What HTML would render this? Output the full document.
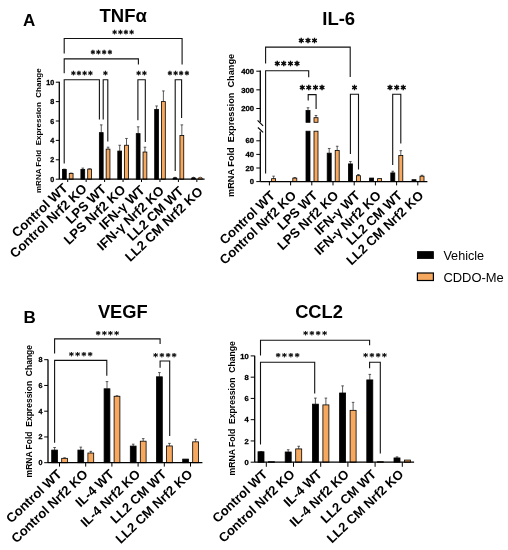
<!DOCTYPE html>
<html><head><meta charset="utf-8"><style>
html,body{margin:0;padding:0;background:#fff;}
svg{display:block;}
text{font-family:"Liberation Sans",Arial,sans-serif;fill:#000;}
</style></head><body>
<svg width="508" height="550" viewBox="0 0 508 550">
<rect width="508" height="550" fill="#fff"/>
<line x1="64.35" y1="169.50" x2="64.35" y2="169.11" stroke="#333" stroke-width="0.8"/>
<line x1="63.05" y1="169.11" x2="65.65" y2="169.11" stroke="#333" stroke-width="0.8"/>
<rect x="62.45" y="169.50" width="3.80" height="9.70" fill="#000" stroke="#000" stroke-width="0.8"/>
<line x1="71.15" y1="173.38" x2="71.15" y2="173.09" stroke="#333" stroke-width="0.8"/>
<line x1="69.85" y1="173.09" x2="72.45" y2="173.09" stroke="#333" stroke-width="0.8"/>
<rect x="69.25" y="173.38" width="3.80" height="5.82" fill="#F6A85E" stroke="#000" stroke-width="0.8"/>
<line x1="67.70" y1="179.20" x2="67.70" y2="182.00" stroke="#000" stroke-width="1.0"/>
<text x="68.50" y="189.20" font-size="13.2" font-weight="bold" text-anchor="end" transform="rotate(-43.5 68.50 189.20)">Control WT</text>
<line x1="82.80" y1="169.50" x2="82.80" y2="168.14" stroke="#333" stroke-width="0.8"/>
<line x1="81.50" y1="168.14" x2="84.10" y2="168.14" stroke="#333" stroke-width="0.8"/>
<rect x="80.90" y="169.50" width="3.80" height="9.70" fill="#000" stroke="#000" stroke-width="0.8"/>
<line x1="89.60" y1="169.11" x2="89.60" y2="168.82" stroke="#333" stroke-width="0.8"/>
<line x1="88.30" y1="168.82" x2="90.90" y2="168.82" stroke="#333" stroke-width="0.8"/>
<rect x="87.70" y="169.11" width="3.80" height="10.09" fill="#F6A85E" stroke="#000" stroke-width="0.8"/>
<line x1="86.15" y1="179.20" x2="86.15" y2="182.00" stroke="#000" stroke-width="1.0"/>
<text x="87.80" y="189.70" font-size="13.2" font-weight="bold" text-anchor="end" transform="rotate(-43.5 87.80 189.70)">Control Nrf2 KO</text>
<line x1="101.25" y1="132.64" x2="101.25" y2="124.88" stroke="#333" stroke-width="0.8"/>
<line x1="99.95" y1="124.88" x2="102.55" y2="124.88" stroke="#333" stroke-width="0.8"/>
<rect x="99.35" y="132.64" width="3.80" height="46.56" fill="#000" stroke="#000" stroke-width="0.8"/>
<line x1="108.05" y1="149.13" x2="108.05" y2="147.19" stroke="#333" stroke-width="0.8"/>
<line x1="106.75" y1="147.19" x2="109.35" y2="147.19" stroke="#333" stroke-width="0.8"/>
<rect x="106.15" y="149.13" width="3.80" height="30.07" fill="#F6A85E" stroke="#000" stroke-width="0.8"/>
<line x1="104.60" y1="179.20" x2="104.60" y2="182.00" stroke="#000" stroke-width="1.0"/>
<text x="107.10" y="190.20" font-size="13.2" font-weight="bold" text-anchor="end" transform="rotate(-43.5 107.10 190.20)">LPS WT</text>
<line x1="119.70" y1="151.07" x2="119.70" y2="145.25" stroke="#333" stroke-width="0.8"/>
<line x1="118.40" y1="145.25" x2="121.00" y2="145.25" stroke="#333" stroke-width="0.8"/>
<rect x="117.80" y="151.07" width="3.80" height="28.13" fill="#000" stroke="#000" stroke-width="0.8"/>
<line x1="126.50" y1="145.25" x2="126.50" y2="138.46" stroke="#333" stroke-width="0.8"/>
<line x1="125.20" y1="138.46" x2="127.80" y2="138.46" stroke="#333" stroke-width="0.8"/>
<rect x="124.60" y="145.25" width="3.80" height="33.95" fill="#F6A85E" stroke="#000" stroke-width="0.8"/>
<line x1="123.05" y1="179.20" x2="123.05" y2="182.00" stroke="#000" stroke-width="1.0"/>
<text x="126.40" y="190.70" font-size="13.2" font-weight="bold" text-anchor="end" transform="rotate(-43.5 126.40 190.70)">LPS Nrf2 KO</text>
<line x1="138.15" y1="133.61" x2="138.15" y2="126.82" stroke="#333" stroke-width="0.8"/>
<line x1="136.85" y1="126.82" x2="139.45" y2="126.82" stroke="#333" stroke-width="0.8"/>
<rect x="136.25" y="133.61" width="3.80" height="45.59" fill="#000" stroke="#000" stroke-width="0.8"/>
<line x1="144.95" y1="152.04" x2="144.95" y2="147.19" stroke="#333" stroke-width="0.8"/>
<line x1="143.65" y1="147.19" x2="146.25" y2="147.19" stroke="#333" stroke-width="0.8"/>
<rect x="143.05" y="152.04" width="3.80" height="27.16" fill="#F6A85E" stroke="#000" stroke-width="0.8"/>
<line x1="141.50" y1="179.20" x2="141.50" y2="182.00" stroke="#000" stroke-width="1.0"/>
<text x="145.70" y="191.20" font-size="13.2" font-weight="bold" text-anchor="end" transform="rotate(-43.5 145.70 191.20)">IFN-γ WT</text>
<line x1="156.60" y1="109.36" x2="156.60" y2="105.96" stroke="#333" stroke-width="0.8"/>
<line x1="155.30" y1="105.96" x2="157.90" y2="105.96" stroke="#333" stroke-width="0.8"/>
<rect x="154.70" y="109.36" width="3.80" height="69.84" fill="#000" stroke="#000" stroke-width="0.8"/>
<line x1="163.40" y1="101.60" x2="163.40" y2="90.93" stroke="#333" stroke-width="0.8"/>
<line x1="162.10" y1="90.93" x2="164.70" y2="90.93" stroke="#333" stroke-width="0.8"/>
<rect x="161.50" y="101.60" width="3.80" height="77.60" fill="#F6A85E" stroke="#000" stroke-width="0.8"/>
<line x1="159.95" y1="179.20" x2="159.95" y2="182.00" stroke="#000" stroke-width="1.0"/>
<text x="165.00" y="191.70" font-size="13.2" font-weight="bold" text-anchor="end" transform="rotate(-43.5 165.00 191.70)">IFN-γ Nrf2 KO</text>
<path d="M172.75,179.20 Q172.75,177.20 175.05,177.20 Q177.35,177.20 177.35,179.20 Z" fill="#000" stroke="#000" stroke-width="0.6"/>
<line x1="181.85" y1="135.55" x2="181.85" y2="124.88" stroke="#333" stroke-width="0.8"/>
<line x1="180.55" y1="124.88" x2="183.15" y2="124.88" stroke="#333" stroke-width="0.8"/>
<rect x="179.95" y="135.55" width="3.80" height="43.65" fill="#F6A85E" stroke="#000" stroke-width="0.8"/>
<line x1="178.40" y1="179.20" x2="178.40" y2="182.00" stroke="#000" stroke-width="1.0"/>
<text x="184.30" y="192.20" font-size="13.2" font-weight="bold" text-anchor="end" transform="rotate(-43.5 184.30 192.20)">LL2 CM WT</text>
<path d="M191.20,179.20 Q191.20,177.20 193.50,177.20 Q195.80,177.20 195.80,179.20 Z" fill="#000" stroke="#000" stroke-width="0.6"/>
<path d="M198.00,179.20 Q198.00,177.20 200.30,177.20 Q202.60,177.20 202.60,179.20 Z" fill="#F6A85E" stroke="#000" stroke-width="0.6"/>
<line x1="196.85" y1="179.20" x2="196.85" y2="182.00" stroke="#000" stroke-width="1.0"/>
<text x="203.60" y="192.70" font-size="13.2" font-weight="bold" text-anchor="end" transform="rotate(-43.5 203.60 192.70)">LL2 CM Nrf2 KO</text>
<line x1="59.30" y1="179.20" x2="204.60" y2="179.20" stroke="#000" stroke-width="1.3"/>
<line x1="59.30" y1="81.80" x2="59.30" y2="179.20" stroke="#000" stroke-width="1.3"/>
<line x1="55.80" y1="179.20" x2="59.30" y2="179.20" stroke="#000" stroke-width="1.0"/>
<text x="54.30" y="181.72" font-size="7.2" font-weight="bold" text-anchor="end" stroke="#000" stroke-width="0.3">0</text>
<line x1="55.80" y1="159.80" x2="59.30" y2="159.80" stroke="#000" stroke-width="1.0"/>
<text x="54.30" y="162.32" font-size="7.2" font-weight="bold" text-anchor="end" stroke="#000" stroke-width="0.3">2</text>
<line x1="55.80" y1="140.40" x2="59.30" y2="140.40" stroke="#000" stroke-width="1.0"/>
<text x="54.30" y="142.92" font-size="7.2" font-weight="bold" text-anchor="end" stroke="#000" stroke-width="0.3">4</text>
<line x1="55.80" y1="121.00" x2="59.30" y2="121.00" stroke="#000" stroke-width="1.0"/>
<text x="54.30" y="123.52" font-size="7.2" font-weight="bold" text-anchor="end" stroke="#000" stroke-width="0.3">6</text>
<line x1="55.80" y1="101.60" x2="59.30" y2="101.60" stroke="#000" stroke-width="1.0"/>
<text x="54.30" y="104.12" font-size="7.2" font-weight="bold" text-anchor="end" stroke="#000" stroke-width="0.3">8</text>
<line x1="55.80" y1="82.20" x2="59.30" y2="82.20" stroke="#000" stroke-width="1.0"/>
<text x="54.30" y="84.72" font-size="7.2" font-weight="bold" text-anchor="end" stroke="#000" stroke-width="0.3">10</text>
<text x="0" y="0" font-size="8.0" font-weight="bold" text-anchor="middle" transform="translate(41.20 130.70) rotate(-90)" xml:space="preserve" style="white-space:pre">mRNA Fold  Expression  Change</text>
<text x="123.20" y="21.80" font-size="18.5" font-weight="bold" text-anchor="middle" >TNFα</text>
<polyline points="64.20,53.50 64.20,38.50 182.10,38.50 182.10,64.50" fill="none" stroke="#111" stroke-width="1.1"/>
<text x="123.85" y="36.88" font-size="8.2" font-weight="bold" text-anchor="middle" letter-spacing="1.4" stroke="#000" stroke-width="0.4" style="font-family:'DejaVu Sans',sans-serif">****</text>
<polyline points="64.20,73.20 64.20,58.90 138.40,58.90 138.40,64.50" fill="none" stroke="#111" stroke-width="1.1"/>
<text x="102.00" y="57.28" font-size="8.2" font-weight="bold" text-anchor="middle" letter-spacing="1.4" stroke="#000" stroke-width="0.4" style="font-family:'DejaVu Sans',sans-serif">****</text>
<polyline points="64.20,163.60 64.20,79.80 99.40,79.80 99.40,119.50" fill="none" stroke="#111" stroke-width="1.1"/>
<text x="82.50" y="78.18" font-size="8.2" font-weight="bold" text-anchor="middle" letter-spacing="1.4" stroke="#000" stroke-width="0.4" style="font-family:'DejaVu Sans',sans-serif">****</text>
<polyline points="103.20,119.50 103.20,79.80 107.80,79.80 107.80,141.40" fill="none" stroke="#111" stroke-width="1.1"/>
<text x="106.20" y="78.18" font-size="8.2" font-weight="bold" text-anchor="middle" letter-spacing="1.4" stroke="#000" stroke-width="0.4" style="font-family:'DejaVu Sans',sans-serif">*</text>
<polyline points="137.90,120.20 137.90,79.80 145.30,79.80 145.30,142.00" fill="none" stroke="#111" stroke-width="1.1"/>
<text x="142.30" y="78.18" font-size="8.2" font-weight="bold" text-anchor="middle" letter-spacing="1.4" stroke="#000" stroke-width="0.4" style="font-family:'DejaVu Sans',sans-serif">**</text>
<polyline points="175.20,171.00 175.20,79.80 181.60,79.80 181.60,118.00" fill="none" stroke="#111" stroke-width="1.1"/>
<text x="179.10" y="78.18" font-size="8.2" font-weight="bold" text-anchor="middle" letter-spacing="1.4" stroke="#000" stroke-width="0.4" style="font-family:'DejaVu Sans',sans-serif">****</text>
<line x1="273.60" y1="178.68" x2="273.60" y2="176.16" stroke="#333" stroke-width="0.8"/>
<line x1="272.30" y1="176.16" x2="274.90" y2="176.16" stroke="#333" stroke-width="0.8"/>
<rect x="271.60" y="178.68" width="4.00" height="2.92" fill="#F6A85E" stroke="#000" stroke-width="0.8"/>
<line x1="269.40" y1="181.60" x2="269.40" y2="185.40" stroke="#000" stroke-width="1.0"/>
<text x="275.90" y="196.60" font-size="13.1" font-weight="bold" text-anchor="end" transform="rotate(-43.5 275.90 196.60)">Control WT</text>
<line x1="294.80" y1="178.13" x2="294.80" y2="177.59" stroke="#333" stroke-width="0.8"/>
<line x1="293.50" y1="177.59" x2="296.10" y2="177.59" stroke="#333" stroke-width="0.8"/>
<rect x="292.80" y="178.13" width="4.00" height="3.47" fill="#F6A85E" stroke="#000" stroke-width="0.8"/>
<line x1="290.60" y1="181.60" x2="290.60" y2="185.40" stroke="#000" stroke-width="1.0"/>
<text x="297.10" y="196.60" font-size="13.1" font-weight="bold" text-anchor="end" transform="rotate(-43.5 297.10 196.60)">Control Nrf2 KO</text>
<line x1="308.00" y1="110.55" x2="308.00" y2="107.75" stroke="#333" stroke-width="0.8"/>
<line x1="306.70" y1="107.75" x2="309.30" y2="107.75" stroke="#333" stroke-width="0.8"/>
<rect x="306.00" y="110.55" width="4.00" height="11.75" fill="#000" stroke="#000" stroke-width="0.8"/>
<rect x="306.00" y="131.20" width="4.00" height="50.40" fill="#000" stroke="#000" stroke-width="0.8"/>
<line x1="316.00" y1="117.69" x2="316.00" y2="115.49" stroke="#333" stroke-width="0.8"/>
<line x1="314.70" y1="115.49" x2="317.30" y2="115.49" stroke="#333" stroke-width="0.8"/>
<rect x="314.00" y="117.69" width="4.00" height="4.61" fill="#F6A85E" stroke="#000" stroke-width="0.8"/>
<rect x="314.00" y="131.20" width="4.00" height="50.40" fill="#F6A85E" stroke="#000" stroke-width="0.8"/>
<line x1="311.80" y1="181.60" x2="311.80" y2="185.40" stroke="#000" stroke-width="1.0"/>
<text x="318.30" y="196.60" font-size="13.1" font-weight="bold" text-anchor="end" transform="rotate(-43.5 318.30 196.60)">LPS WT</text>
<line x1="329.20" y1="153.18" x2="329.20" y2="148.48" stroke="#333" stroke-width="0.8"/>
<line x1="327.90" y1="148.48" x2="330.50" y2="148.48" stroke="#333" stroke-width="0.8"/>
<rect x="327.20" y="153.18" width="4.00" height="28.42" fill="#000" stroke="#000" stroke-width="0.8"/>
<line x1="337.20" y1="150.39" x2="337.20" y2="146.24" stroke="#333" stroke-width="0.8"/>
<line x1="335.90" y1="146.24" x2="338.50" y2="146.24" stroke="#333" stroke-width="0.8"/>
<rect x="335.20" y="150.39" width="4.00" height="31.21" fill="#F6A85E" stroke="#000" stroke-width="0.8"/>
<line x1="333.00" y1="181.60" x2="333.00" y2="185.40" stroke="#000" stroke-width="1.0"/>
<text x="339.50" y="196.60" font-size="13.1" font-weight="bold" text-anchor="end" transform="rotate(-43.5 339.50 196.60)">LPS Nrf2 KO</text>
<line x1="350.40" y1="163.92" x2="350.40" y2="161.54" stroke="#333" stroke-width="0.8"/>
<line x1="349.10" y1="161.54" x2="351.70" y2="161.54" stroke="#333" stroke-width="0.8"/>
<rect x="348.40" y="163.92" width="4.00" height="17.68" fill="#000" stroke="#000" stroke-width="0.8"/>
<line x1="358.40" y1="175.68" x2="358.40" y2="174.53" stroke="#333" stroke-width="0.8"/>
<line x1="357.10" y1="174.53" x2="359.70" y2="174.53" stroke="#333" stroke-width="0.8"/>
<rect x="356.40" y="175.68" width="4.00" height="5.92" fill="#F6A85E" stroke="#000" stroke-width="0.8"/>
<line x1="354.20" y1="181.60" x2="354.20" y2="185.40" stroke="#000" stroke-width="1.0"/>
<text x="360.70" y="196.60" font-size="13.1" font-weight="bold" text-anchor="end" transform="rotate(-43.5 360.70 196.60)">IFN-γ WT</text>
<rect x="369.60" y="178.06" width="4.00" height="3.54" fill="#000" stroke="#000" stroke-width="0.8"/>
<rect x="377.60" y="178.61" width="4.00" height="2.99" fill="#F6A85E" stroke="#000" stroke-width="0.8"/>
<line x1="375.40" y1="181.60" x2="375.40" y2="185.40" stroke="#000" stroke-width="1.0"/>
<text x="381.90" y="196.60" font-size="13.1" font-weight="bold" text-anchor="end" transform="rotate(-43.5 381.90 196.60)">IFN-γ Nrf2 KO</text>
<line x1="392.80" y1="172.90" x2="392.80" y2="171.26" stroke="#333" stroke-width="0.8"/>
<line x1="391.50" y1="171.26" x2="394.10" y2="171.26" stroke="#333" stroke-width="0.8"/>
<rect x="390.80" y="172.90" width="4.00" height="8.70" fill="#000" stroke="#000" stroke-width="0.8"/>
<line x1="400.80" y1="155.42" x2="400.80" y2="150.66" stroke="#333" stroke-width="0.8"/>
<line x1="399.50" y1="150.66" x2="402.10" y2="150.66" stroke="#333" stroke-width="0.8"/>
<rect x="398.80" y="155.42" width="4.00" height="26.18" fill="#F6A85E" stroke="#000" stroke-width="0.8"/>
<line x1="396.60" y1="181.60" x2="396.60" y2="185.40" stroke="#000" stroke-width="1.0"/>
<text x="403.10" y="196.60" font-size="13.1" font-weight="bold" text-anchor="end" transform="rotate(-43.5 403.10 196.60)">LL2 CM WT</text>
<rect x="412.00" y="179.70" width="4.00" height="1.90" fill="#000" stroke="#000" stroke-width="0.8"/>
<line x1="422.00" y1="176.16" x2="422.00" y2="175.28" stroke="#333" stroke-width="0.8"/>
<line x1="420.70" y1="175.28" x2="423.30" y2="175.28" stroke="#333" stroke-width="0.8"/>
<rect x="420.00" y="176.16" width="4.00" height="5.44" fill="#F6A85E" stroke="#000" stroke-width="0.8"/>
<line x1="417.80" y1="181.60" x2="417.80" y2="185.40" stroke="#000" stroke-width="1.0"/>
<text x="424.30" y="196.60" font-size="13.1" font-weight="bold" text-anchor="end" transform="rotate(-43.5 424.30 196.60)">LL2 CM Nrf2 KO</text>
<line x1="260.30" y1="181.60" x2="427.40" y2="181.60" stroke="#000" stroke-width="1.3"/>
<line x1="260.30" y1="70.60" x2="260.30" y2="122.30" stroke="#000" stroke-width="1.3"/>
<line x1="260.30" y1="131.60" x2="260.30" y2="181.60" stroke="#000" stroke-width="1.3"/>
<line x1="256.30" y1="181.60" x2="260.30" y2="181.60" stroke="#000" stroke-width="1.0"/>
<text x="254.00" y="184.29" font-size="7.7" font-weight="bold" text-anchor="end" stroke="#000" stroke-width="0.3">0</text>
<line x1="256.30" y1="168.00" x2="260.30" y2="168.00" stroke="#000" stroke-width="1.0"/>
<text x="254.00" y="170.69" font-size="7.7" font-weight="bold" text-anchor="end" stroke="#000" stroke-width="0.3">20</text>
<line x1="256.30" y1="154.40" x2="260.30" y2="154.40" stroke="#000" stroke-width="1.0"/>
<text x="254.00" y="157.09" font-size="7.7" font-weight="bold" text-anchor="end" stroke="#000" stroke-width="0.3">40</text>
<line x1="256.30" y1="140.80" x2="260.30" y2="140.80" stroke="#000" stroke-width="1.0"/>
<text x="254.00" y="143.49" font-size="7.7" font-weight="bold" text-anchor="end" stroke="#000" stroke-width="0.3">60</text>
<line x1="256.30" y1="108.50" x2="260.30" y2="108.50" stroke="#000" stroke-width="1.0"/>
<text x="254.00" y="111.19" font-size="7.7" font-weight="bold" text-anchor="end" stroke="#000" stroke-width="0.3">200</text>
<line x1="256.30" y1="89.85" x2="260.30" y2="89.85" stroke="#000" stroke-width="1.0"/>
<text x="254.00" y="92.54" font-size="7.7" font-weight="bold" text-anchor="end" stroke="#000" stroke-width="0.3">300</text>
<line x1="256.30" y1="71.20" x2="260.30" y2="71.20" stroke="#000" stroke-width="1.0"/>
<text x="254.00" y="73.89" font-size="7.7" font-weight="bold" text-anchor="end" stroke="#000" stroke-width="0.3">400</text>
<text x="0" y="0" font-size="9.2" font-weight="bold" text-anchor="middle" transform="translate(233.80 125.40) rotate(-90)" xml:space="preserve" style="white-space:pre">mRNA Fold  Expression  Change</text>
<text x="338.70" y="24.80" font-size="18.5" font-weight="bold" text-anchor="middle" >IL-6</text>
<polyline points="265.60,63.50 265.60,47.10 350.20,47.10 350.20,77.00" fill="none" stroke="#111" stroke-width="1.1"/>
<text x="308.70" y="45.78" font-size="9.6" font-weight="bold" text-anchor="middle" letter-spacing="1.6" stroke="#000" stroke-width="0.55" style="font-family:'DejaVu Sans',sans-serif">***</text>
<polyline points="265.60,173.60 265.60,70.70 308.70,70.70 308.70,77.20" fill="none" stroke="#111" stroke-width="1.1"/>
<text x="287.95" y="69.38" font-size="9.6" font-weight="bold" text-anchor="middle" letter-spacing="1.6" stroke="#000" stroke-width="0.55" style="font-family:'DejaVu Sans',sans-serif">****</text>
<polyline points="308.20,100.60 308.20,94.60 316.10,94.60 316.10,109.10" fill="none" stroke="#111" stroke-width="1.1"/>
<text x="312.95" y="93.28" font-size="9.6" font-weight="bold" text-anchor="middle" letter-spacing="1.6" stroke="#000" stroke-width="0.55" style="font-family:'DejaVu Sans',sans-serif">****</text>
<polyline points="350.40,154.00 350.40,94.30 358.50,94.30 358.50,169.40" fill="none" stroke="#111" stroke-width="1.1"/>
<text x="355.25" y="92.98" font-size="9.6" font-weight="bold" text-anchor="middle" letter-spacing="1.6" stroke="#000" stroke-width="0.55" style="font-family:'DejaVu Sans',sans-serif">*</text>
<polyline points="392.70,165.10 392.70,94.30 400.80,94.30 400.80,143.50" fill="none" stroke="#111" stroke-width="1.1"/>
<text x="397.55" y="92.98" font-size="9.6" font-weight="bold" text-anchor="middle" letter-spacing="1.6" stroke="#000" stroke-width="0.55" style="font-family:'DejaVu Sans',sans-serif">***</text>
<line x1="257.60" y1="120.40" x2="263.10" y2="125.80" stroke="#000" stroke-width="1.1"/>
<line x1="257.90" y1="127.50" x2="263.10" y2="132.40" stroke="#000" stroke-width="1.1"/>
<line x1="54.60" y1="450.08" x2="54.60" y2="447.51" stroke="#333" stroke-width="0.8"/>
<line x1="53.30" y1="447.51" x2="55.90" y2="447.51" stroke="#333" stroke-width="0.8"/>
<rect x="51.70" y="450.08" width="5.80" height="12.62" fill="#000" stroke="#000" stroke-width="0.8"/>
<line x1="64.60" y1="458.32" x2="64.60" y2="457.81" stroke="#333" stroke-width="0.8"/>
<line x1="63.30" y1="457.81" x2="65.90" y2="457.81" stroke="#333" stroke-width="0.8"/>
<rect x="61.70" y="458.32" width="5.80" height="4.38" fill="#F6A85E" stroke="#000" stroke-width="0.8"/>
<line x1="59.50" y1="462.70" x2="59.50" y2="466.60" stroke="#000" stroke-width="1.0"/>
<text x="62.50" y="475.20" font-size="13.1" font-weight="bold" text-anchor="end" transform="rotate(-43.5 62.50 475.20)">Control WT</text>
<line x1="80.80" y1="450.08" x2="80.80" y2="447.12" stroke="#333" stroke-width="0.8"/>
<line x1="79.50" y1="447.12" x2="82.10" y2="447.12" stroke="#333" stroke-width="0.8"/>
<rect x="77.90" y="450.08" width="5.80" height="12.62" fill="#000" stroke="#000" stroke-width="0.8"/>
<line x1="90.80" y1="453.04" x2="90.80" y2="451.37" stroke="#333" stroke-width="0.8"/>
<line x1="89.50" y1="451.37" x2="92.10" y2="451.37" stroke="#333" stroke-width="0.8"/>
<rect x="87.90" y="453.04" width="5.80" height="9.66" fill="#F6A85E" stroke="#000" stroke-width="0.8"/>
<line x1="85.70" y1="462.70" x2="85.70" y2="466.60" stroke="#000" stroke-width="1.0"/>
<text x="88.70" y="475.20" font-size="13.1" font-weight="bold" text-anchor="end" transform="rotate(-43.5 88.70 475.20)">Control Nrf2 KO</text>
<line x1="107.00" y1="388.80" x2="107.00" y2="381.59" stroke="#333" stroke-width="0.8"/>
<line x1="105.70" y1="381.59" x2="108.30" y2="381.59" stroke="#333" stroke-width="0.8"/>
<rect x="104.10" y="388.80" width="5.80" height="73.90" fill="#000" stroke="#000" stroke-width="0.8"/>
<line x1="117.00" y1="396.26" x2="117.00" y2="395.75" stroke="#333" stroke-width="0.8"/>
<line x1="115.70" y1="395.75" x2="118.30" y2="395.75" stroke="#333" stroke-width="0.8"/>
<rect x="114.10" y="396.26" width="5.80" height="66.44" fill="#F6A85E" stroke="#000" stroke-width="0.8"/>
<line x1="111.90" y1="462.70" x2="111.90" y2="466.60" stroke="#000" stroke-width="1.0"/>
<text x="114.90" y="475.20" font-size="13.1" font-weight="bold" text-anchor="end" transform="rotate(-43.5 114.90 475.20)">IL-4 WT</text>
<line x1="133.20" y1="446.09" x2="133.20" y2="444.16" stroke="#333" stroke-width="0.8"/>
<line x1="131.90" y1="444.16" x2="134.50" y2="444.16" stroke="#333" stroke-width="0.8"/>
<rect x="130.30" y="446.09" width="5.80" height="16.61" fill="#000" stroke="#000" stroke-width="0.8"/>
<line x1="143.20" y1="441.20" x2="143.20" y2="438.62" stroke="#333" stroke-width="0.8"/>
<line x1="141.90" y1="438.62" x2="144.50" y2="438.62" stroke="#333" stroke-width="0.8"/>
<rect x="140.30" y="441.20" width="5.80" height="21.50" fill="#F6A85E" stroke="#000" stroke-width="0.8"/>
<line x1="138.10" y1="462.70" x2="138.10" y2="466.60" stroke="#000" stroke-width="1.0"/>
<text x="141.10" y="475.20" font-size="13.1" font-weight="bold" text-anchor="end" transform="rotate(-43.5 141.10 475.20)">IL-4 Nrf2 KO</text>
<line x1="159.40" y1="376.82" x2="159.40" y2="372.57" stroke="#333" stroke-width="0.8"/>
<line x1="158.10" y1="372.57" x2="160.70" y2="372.57" stroke="#333" stroke-width="0.8"/>
<rect x="156.50" y="376.82" width="5.80" height="85.88" fill="#000" stroke="#000" stroke-width="0.8"/>
<line x1="169.40" y1="445.96" x2="169.40" y2="443.39" stroke="#333" stroke-width="0.8"/>
<line x1="168.10" y1="443.39" x2="170.70" y2="443.39" stroke="#333" stroke-width="0.8"/>
<rect x="166.50" y="445.96" width="5.80" height="16.74" fill="#F6A85E" stroke="#000" stroke-width="0.8"/>
<line x1="164.30" y1="462.70" x2="164.30" y2="466.60" stroke="#000" stroke-width="1.0"/>
<text x="167.30" y="475.20" font-size="13.1" font-weight="bold" text-anchor="end" transform="rotate(-43.5 167.30 475.20)">LL2 CM WT</text>
<rect x="182.70" y="459.09" width="5.80" height="3.61" fill="#000" stroke="#000" stroke-width="0.8"/>
<line x1="195.60" y1="441.84" x2="195.60" y2="439.27" stroke="#333" stroke-width="0.8"/>
<line x1="194.30" y1="439.27" x2="196.90" y2="439.27" stroke="#333" stroke-width="0.8"/>
<rect x="192.70" y="441.84" width="5.80" height="20.86" fill="#F6A85E" stroke="#000" stroke-width="0.8"/>
<line x1="190.50" y1="462.70" x2="190.50" y2="466.60" stroke="#000" stroke-width="1.0"/>
<text x="193.50" y="475.20" font-size="13.1" font-weight="bold" text-anchor="end" transform="rotate(-43.5 193.50 475.20)">LL2 CM Nrf2 KO</text>
<line x1="48.00" y1="462.70" x2="202.40" y2="462.70" stroke="#000" stroke-width="1.3"/>
<line x1="48.00" y1="359.50" x2="48.00" y2="462.70" stroke="#000" stroke-width="1.3"/>
<line x1="44.20" y1="462.70" x2="48.00" y2="462.70" stroke="#000" stroke-width="1.0"/>
<text x="42.40" y="465.22" font-size="7.2" font-weight="bold" text-anchor="end" stroke="#000" stroke-width="0.3">0</text>
<line x1="44.20" y1="436.95" x2="48.00" y2="436.95" stroke="#000" stroke-width="1.0"/>
<text x="42.40" y="439.47" font-size="7.2" font-weight="bold" text-anchor="end" stroke="#000" stroke-width="0.3">2</text>
<line x1="44.20" y1="411.20" x2="48.00" y2="411.20" stroke="#000" stroke-width="1.0"/>
<text x="42.40" y="413.72" font-size="7.2" font-weight="bold" text-anchor="end" stroke="#000" stroke-width="0.3">4</text>
<line x1="44.20" y1="385.45" x2="48.00" y2="385.45" stroke="#000" stroke-width="1.0"/>
<text x="42.40" y="387.97" font-size="7.2" font-weight="bold" text-anchor="end" stroke="#000" stroke-width="0.3">6</text>
<line x1="44.20" y1="359.70" x2="48.00" y2="359.70" stroke="#000" stroke-width="1.0"/>
<text x="42.40" y="362.22" font-size="7.2" font-weight="bold" text-anchor="end" stroke="#000" stroke-width="0.3">8</text>
<text x="0" y="0" font-size="8.5" font-weight="bold" text-anchor="middle" transform="translate(31.80 411.20) rotate(-90)" xml:space="preserve" style="white-space:pre">mRNA Fold  Expression  Change</text>
<text x="122.80" y="317.70" font-size="18.3" font-weight="bold" text-anchor="middle" >VEGF</text>
<polyline points="54.60,353.50 54.60,338.90 160.10,338.90 160.10,344.00" fill="none" stroke="#111" stroke-width="1.1"/>
<text x="108.10" y="337.51" font-size="9.0" font-weight="bold" text-anchor="middle" letter-spacing="1.5" stroke="#000" stroke-width="0.25" style="font-family:'DejaVu Sans',sans-serif">****</text>
<polyline points="54.60,442.80 54.60,360.40 106.80,360.40 106.80,375.80" fill="none" stroke="#111" stroke-width="1.1"/>
<text x="81.45" y="359.01" font-size="9.0" font-weight="bold" text-anchor="middle" letter-spacing="1.5" stroke="#000" stroke-width="0.25" style="font-family:'DejaVu Sans',sans-serif">****</text>
<polyline points="160.10,367.80 160.10,361.00 169.70,361.00 169.70,436.00" fill="none" stroke="#111" stroke-width="1.1"/>
<text x="165.65" y="359.61" font-size="9.0" font-weight="bold" text-anchor="middle" letter-spacing="1.5" stroke="#000" stroke-width="0.25" style="font-family:'DejaVu Sans',sans-serif">****</text>
<line x1="261.00" y1="451.78" x2="261.00" y2="451.57" stroke="#333" stroke-width="0.8"/>
<line x1="259.70" y1="451.57" x2="262.30" y2="451.57" stroke="#333" stroke-width="0.8"/>
<rect x="258.00" y="451.78" width="6.00" height="10.42" fill="#000" stroke="#000" stroke-width="0.8"/>
<rect x="268.50" y="461.67" width="6.00" height="0.60" fill="#F6A85E" stroke="#000" stroke-width="0.8"/>
<line x1="266.30" y1="462.20" x2="266.30" y2="466.80" stroke="#000" stroke-width="1.0"/>
<text x="268.30" y="475.20" font-size="13.0" font-weight="bold" text-anchor="end" transform="rotate(-43.5 268.30 475.20)">Control WT</text>
<line x1="288.20" y1="452.00" x2="288.20" y2="449.76" stroke="#333" stroke-width="0.8"/>
<line x1="286.90" y1="449.76" x2="289.50" y2="449.76" stroke="#333" stroke-width="0.8"/>
<rect x="285.20" y="452.00" width="6.00" height="10.20" fill="#000" stroke="#000" stroke-width="0.8"/>
<line x1="298.70" y1="448.91" x2="298.70" y2="446.25" stroke="#333" stroke-width="0.8"/>
<line x1="297.40" y1="446.25" x2="300.00" y2="446.25" stroke="#333" stroke-width="0.8"/>
<rect x="295.70" y="448.91" width="6.00" height="13.29" fill="#F6A85E" stroke="#000" stroke-width="0.8"/>
<line x1="293.50" y1="462.20" x2="293.50" y2="466.80" stroke="#000" stroke-width="1.0"/>
<text x="295.50" y="475.20" font-size="13.0" font-weight="bold" text-anchor="end" transform="rotate(-43.5 295.50 475.20)">Control Nrf2 KO</text>
<line x1="315.40" y1="404.16" x2="315.40" y2="398.10" stroke="#333" stroke-width="0.8"/>
<line x1="314.10" y1="398.10" x2="316.70" y2="398.10" stroke="#333" stroke-width="0.8"/>
<rect x="312.40" y="404.16" width="6.00" height="58.04" fill="#000" stroke="#000" stroke-width="0.8"/>
<line x1="325.90" y1="404.90" x2="325.90" y2="398.10" stroke="#333" stroke-width="0.8"/>
<line x1="324.60" y1="398.10" x2="327.20" y2="398.10" stroke="#333" stroke-width="0.8"/>
<rect x="322.90" y="404.90" width="6.00" height="57.30" fill="#F6A85E" stroke="#000" stroke-width="0.8"/>
<line x1="320.70" y1="462.20" x2="320.70" y2="466.80" stroke="#000" stroke-width="1.0"/>
<text x="322.70" y="475.20" font-size="13.0" font-weight="bold" text-anchor="end" transform="rotate(-43.5 322.70 475.20)">IL-4 WT</text>
<line x1="342.60" y1="393.00" x2="342.60" y2="385.88" stroke="#333" stroke-width="0.8"/>
<line x1="341.30" y1="385.88" x2="343.90" y2="385.88" stroke="#333" stroke-width="0.8"/>
<rect x="339.60" y="393.00" width="6.00" height="69.20" fill="#000" stroke="#000" stroke-width="0.8"/>
<line x1="353.10" y1="410.33" x2="353.10" y2="402.35" stroke="#333" stroke-width="0.8"/>
<line x1="351.80" y1="402.35" x2="354.40" y2="402.35" stroke="#333" stroke-width="0.8"/>
<rect x="350.10" y="410.33" width="6.00" height="51.87" fill="#F6A85E" stroke="#000" stroke-width="0.8"/>
<line x1="347.90" y1="462.20" x2="347.90" y2="466.80" stroke="#000" stroke-width="1.0"/>
<text x="349.90" y="475.20" font-size="13.0" font-weight="bold" text-anchor="end" transform="rotate(-43.5 349.90 475.20)">IL-4 Nrf2 KO</text>
<line x1="369.80" y1="379.92" x2="369.80" y2="374.40" stroke="#333" stroke-width="0.8"/>
<line x1="368.50" y1="374.40" x2="371.10" y2="374.40" stroke="#333" stroke-width="0.8"/>
<rect x="366.80" y="379.92" width="6.00" height="82.28" fill="#000" stroke="#000" stroke-width="0.8"/>
<rect x="377.30" y="461.67" width="6.00" height="0.60" fill="#F6A85E" stroke="#000" stroke-width="0.8"/>
<line x1="375.10" y1="462.20" x2="375.10" y2="466.80" stroke="#000" stroke-width="1.0"/>
<text x="377.10" y="475.20" font-size="13.0" font-weight="bold" text-anchor="end" transform="rotate(-43.5 377.10 475.20)">LL2 CM WT</text>
<line x1="397.00" y1="457.95" x2="397.00" y2="456.88" stroke="#333" stroke-width="0.8"/>
<line x1="395.70" y1="456.88" x2="398.30" y2="456.88" stroke="#333" stroke-width="0.8"/>
<rect x="394.00" y="457.95" width="6.00" height="4.25" fill="#000" stroke="#000" stroke-width="0.8"/>
<rect x="404.50" y="460.07" width="6.00" height="2.13" fill="#F6A85E" stroke="#000" stroke-width="0.8"/>
<line x1="402.30" y1="462.20" x2="402.30" y2="466.80" stroke="#000" stroke-width="1.0"/>
<text x="404.30" y="475.20" font-size="13.0" font-weight="bold" text-anchor="end" transform="rotate(-43.5 404.30 475.20)">LL2 CM Nrf2 KO</text>
<line x1="254.70" y1="462.20" x2="414.10" y2="462.20" stroke="#000" stroke-width="1.3"/>
<line x1="254.70" y1="355.70" x2="254.70" y2="462.20" stroke="#000" stroke-width="1.3"/>
<line x1="250.70" y1="462.20" x2="254.70" y2="462.20" stroke="#000" stroke-width="1.0"/>
<text x="248.70" y="464.86" font-size="7.6" font-weight="bold" text-anchor="end" stroke="#000" stroke-width="0.3">0</text>
<line x1="250.70" y1="440.94" x2="254.70" y2="440.94" stroke="#000" stroke-width="1.0"/>
<text x="248.70" y="443.60" font-size="7.6" font-weight="bold" text-anchor="end" stroke="#000" stroke-width="0.3">2</text>
<line x1="250.70" y1="419.68" x2="254.70" y2="419.68" stroke="#000" stroke-width="1.0"/>
<text x="248.70" y="422.34" font-size="7.6" font-weight="bold" text-anchor="end" stroke="#000" stroke-width="0.3">4</text>
<line x1="250.70" y1="398.42" x2="254.70" y2="398.42" stroke="#000" stroke-width="1.0"/>
<text x="248.70" y="401.08" font-size="7.6" font-weight="bold" text-anchor="end" stroke="#000" stroke-width="0.3">6</text>
<line x1="250.70" y1="377.16" x2="254.70" y2="377.16" stroke="#000" stroke-width="1.0"/>
<text x="248.70" y="379.82" font-size="7.6" font-weight="bold" text-anchor="end" stroke="#000" stroke-width="0.3">8</text>
<line x1="250.70" y1="355.90" x2="254.70" y2="355.90" stroke="#000" stroke-width="1.0"/>
<text x="248.70" y="358.56" font-size="7.6" font-weight="bold" text-anchor="end" stroke="#000" stroke-width="0.3">10</text>
<text x="0" y="0" font-size="8.64" font-weight="bold" text-anchor="middle" transform="translate(234.60 408.30) rotate(-90)" xml:space="preserve" style="white-space:pre">mRNA Fold  Expression  Change</text>
<text x="319.00" y="317.70" font-size="18.3" font-weight="bold" text-anchor="middle" >CCL2</text>
<polyline points="260.50,355.40 260.50,340.20 369.60,340.20 369.60,345.30" fill="none" stroke="#111" stroke-width="1.1"/>
<text x="315.85" y="338.01" font-size="9.0" font-weight="bold" text-anchor="middle" letter-spacing="1.6" stroke="#000" stroke-width="0.25" style="font-family:'DejaVu Sans',sans-serif">****</text>
<polyline points="260.50,444.50 260.50,362.30 314.70,362.30 314.70,393.60" fill="none" stroke="#111" stroke-width="1.1"/>
<text x="288.40" y="360.11" font-size="9.0" font-weight="bold" text-anchor="middle" letter-spacing="1.6" stroke="#000" stroke-width="0.25" style="font-family:'DejaVu Sans',sans-serif">****</text>
<polyline points="369.60,368.20 369.60,362.30 380.30,362.30 380.30,453.40" fill="none" stroke="#111" stroke-width="1.1"/>
<text x="375.75" y="360.11" font-size="9.0" font-weight="bold" text-anchor="middle" letter-spacing="1.6" stroke="#000" stroke-width="0.25" style="font-family:'DejaVu Sans',sans-serif">****</text>
<text x="23.00" y="25.70" font-size="17" font-weight="bold" text-anchor="start" >A</text>
<text x="23.60" y="322.70" font-size="17" font-weight="bold" text-anchor="start" >B</text>
<rect x="417.40" y="251.60" width="16.00" height="7.00" fill="#000" stroke="#000" stroke-width="0.8"/>
<rect x="417.40" y="273.00" width="16.00" height="7.50" fill="#F6A85E" stroke="#000" stroke-width="1.2"/>
<text x="443.40" y="259.80" font-size="12.1" font-weight="normal" text-anchor="start" textLength="40.7" lengthAdjust="spacingAndGlyphs">Vehicle</text>
<text x="443.40" y="281.80" font-size="12.1" font-weight="normal" text-anchor="start" textLength="60.4" lengthAdjust="spacingAndGlyphs">CDDO-Me</text>
</svg>
</body></html>
